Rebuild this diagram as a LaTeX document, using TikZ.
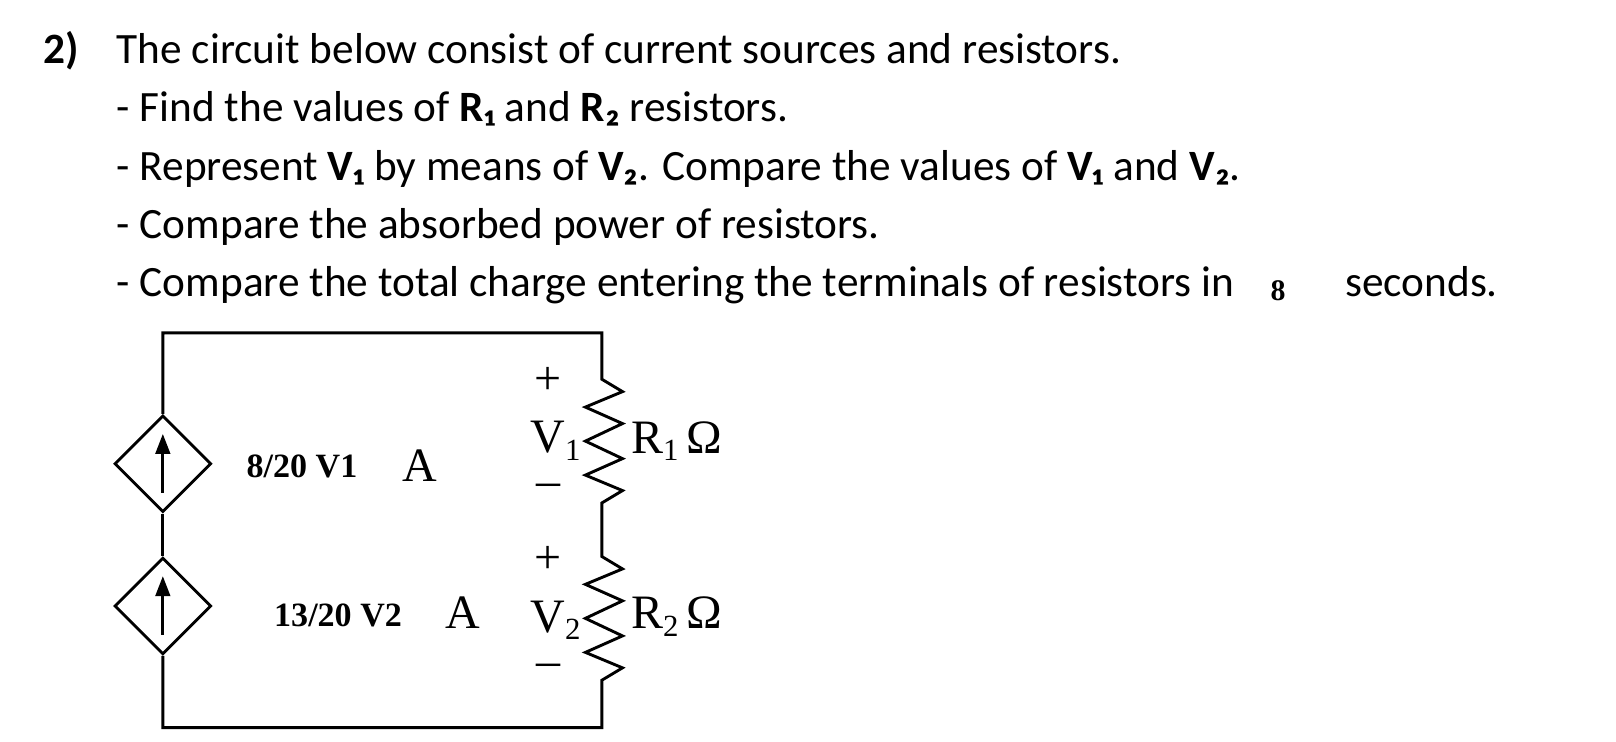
\documentclass[tikz,border=0pt]{standalone}
\usepackage{fontspec}
\usetikzlibrary{shapes.geometric,arrows.meta}
\setmainfont{Carlito}
\newfontfamily\tms{Liberation Serif}
\begin{document}
\begin{tikzpicture}[x=0.02cm,y=-0.02cm,
  wire/.style={line width=1.6pt},
  src/.style={draw,line width=1.6pt,diamond,minimum size=53.4pt,inner sep=0pt,aspect=1},
  hdr/.style={anchor=base west,inner sep=0pt,font=\fontsize{23.9}{27}\selectfont},
  ckt/.style={inner sep=0pt,font=\tms\fontsize{26.5}{30}\selectfont},
  gain/.style={inner sep=0pt,font=\tms\bfseries\fontsize{18.8}{22}\selectfont}]
\useasboundingbox (0,0) rectangle (1568,719);
% header text
\node[hdr] (n2) at (42,62) {\textbf{2)}};
\node[hdr] (l1) at (113,62) {The circuit below consist of current sources and resistors.};
\node[hdr] (l2) at (113,118) {- Find the values of \textbf{R₁} and \textbf{R₂} resistors.};
\node[hdr] (l3) at (113,175) {- Represent \textbf{V₁} by means of \textbf{V₂}. Compare the values of \textbf{V₁} and \textbf{V₂}.};
\node[hdr] (l4) at (113,231) {- Compare the absorbed power of resistors.};
\node[hdr] (l5) at (113,288) {- Compare the total charge entering the terminals of resistors in};
\node[inner sep=0pt,font=\tms\bfseries\fontsize{16.5}{19}\selectfont] (eight) at (1240,282) {8};
\node[hdr] (sec) at (1305,288) {seconds.};
% circuit
\coordinate (tl) at (158,323); \coordinate (tr) at (584,323);
\coordinate (bl) at (158,706); \coordinate (br) at (584,706);
\node[src] (d1) at (158,450) {};
\node[src] (d2) at (158,588) {};
\draw[wire,-{Triangle[length=11pt,width=8pt]}] (158,478) -- (158,421);
\draw[wire,-{Triangle[length=11pt,width=8pt]}] (158,616) -- (158,559);
\draw[wire] (d1.north) -- (tl) -- (tr) -- (584,368)
  -- (604,380) -- (568,395) -- (604,411) -- (568,428) -- (604,445) -- (568,461) -- (604,476) -- (584,488)
  -- (584,540)
  -- (604,552) -- (568,567) -- (604,583) -- (568,600) -- (604,617) -- (568,633) -- (604,648) -- (584,660)
  -- (br) -- (bl) -- (d2.south);
\draw[wire] (d1.south) -- (d2.north);
\node[ckt] (p1) at (532,370) {+};
\node[ckt] (v1) at (539,428) {V\raisebox{-0.35ex}{\tms\fontsize{17}{19}\selectfont 1}};
\node[ckt] (m1) at (532,476) {–};
\node[ckt] (p2) at (532,543) {+};
\node[ckt] (v2) at (539,602) {V\raisebox{-0.35ex}{\tms\fontsize{17}{19}\selectfont 2}};
\node[ckt] (m2) at (532,650) {–};
\node[ckt,anchor=west] (r1) at (612,428) {R\raisebox{-0.35ex}{\tms\fontsize{17}{19}\selectfont 1}\,Ω};
\node[ckt,anchor=west] (r2) at (612,598) {R\raisebox{-0.35ex}{\tms\fontsize{17}{19}\selectfont 2}\,Ω};
\node[gain] (g1) at (293,453) {8/20 V1};
\node[ckt] (a1) at (407,452) {A};
\node[gain] (g2) at (328,597) {13/20 V2};
\node[ckt] (a2) at (449,594) {A};
\end{tikzpicture}
\end{document}
